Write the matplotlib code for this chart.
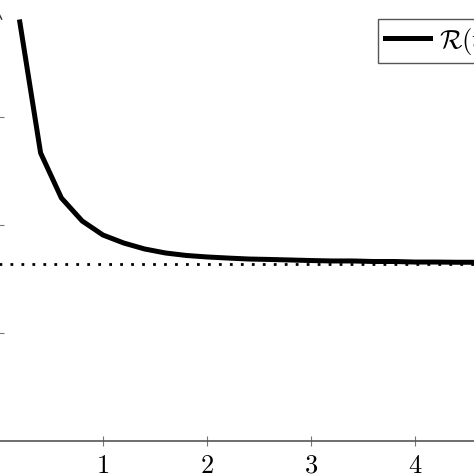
import numpy as np
import matplotlib
matplotlib.use("Agg")
import matplotlib.pyplot as plt

plt.rcParams["mathtext.fontset"] = "cm"
plt.rcParams["font.family"] = "serif"
plt.rcParams["font.serif"] = ["DejaVu Serif"]

# curve samples
t_vals = [0.2, 0.4, 0.6, 0.8, 1.0, 1.2, 1.4, 1.6, 1.8, 2.0, 2.2, 2.4, 2.6,
          2.8, 3.0, 3.2, 3.4, 3.6, 3.8, 4.0, 4.2, 4.4, 4.6, 4.8, 5.0]
r_vals = [3.88, 2.667, 2.25, 2.037, 1.907, 1.833, 1.778, 1.741, 1.718, 1.704,
          1.694, 1.685, 1.681, 1.676, 1.671, 1.667, 1.667, 1.662, 1.662, 1.657,
          1.657, 1.655, 1.655, 1.653, 1.653]
limit_val = 1.639

x_ticks = [1, 2, 3, 4]
x_labels = ["$1$", "$2$", "$3$", "$4$"]
y_ticks = [1, 2, 3]
legend_label = r"$\mathcal{R}(t)$"

W = 474
fig = plt.figure(figsize=(W / 100, W / 100), dpi=100)
# axes: x=0 at -1 px, 104 px per unit; bottom spine at 441 px from top
x0_px, xunit = -1, 104
bot_px, yunit = 441, 108
xmax, ymax = 5.0, 3.97
ax = fig.add_axes([x0_px / W, (W - bot_px) / W, xmax * xunit / W, ymax * yunit / W])

ax.plot(t_vals, r_vals, color="black", lw=3.6, solid_joinstyle="miter", label=legend_label, zorder=3)
ax.axhline(limit_val, color="black", lw=2.0, linestyle=(0, (1, 2.95)), zorder=2)

ax.set_xlim(0, xmax)
ax.set_ylim(0, ymax)
for s in ["top", "right"]:
    ax.spines[s].set_visible(False)
for s in ["left", "bottom"]:
    ax.spines[s].set_color("#555555")
    ax.spines[s].set_linewidth(1.2)

ax.set_xticks(x_ticks)
ax.set_xticklabels(x_labels, fontsize=19)
ax.set_yticks(y_ticks)
ax.set_yticklabels([])
ax.tick_params(direction="inout", length=7, width=0.8, color="#777777", pad=5)

# arrow tip on the y axis
ax.annotate("", xy=(0, ymax), xytext=(0, ymax - 0.05),
            arrowprops=dict(arrowstyle="->", color="#333333", lw=1.0,
                            mutation_scale=10), annotation_clip=False)

leg = ax.legend(loc="upper left", bbox_to_anchor=(0.729, 0.984), fontsize=19,
                frameon=True, fancybox=False, edgecolor="#555555", framealpha=1,
                handlelength=1.7, handletextpad=0.35, borderpad=0.25,
                borderaxespad=0)
leg.get_frame().set_linewidth(1.0)

fig.savefig("out.png", dpi=100)
